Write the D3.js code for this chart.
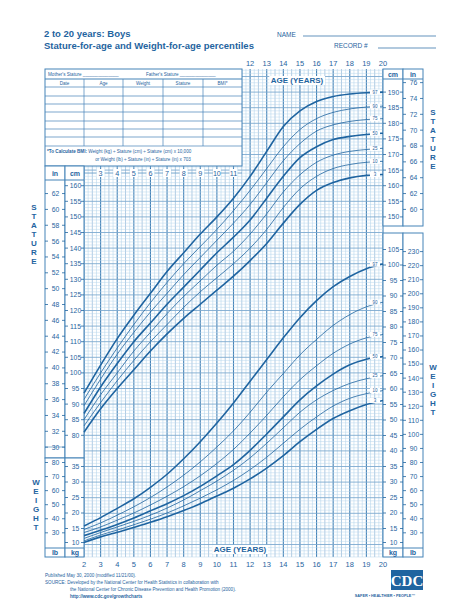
<!DOCTYPE html><html><head><meta charset="utf-8">
<script src="https://cdn.jsdelivr.net/npm/d3@7/dist/d3.min.js"></script>
<style>body{margin:0;background:#fff}svg{display:block;font-family:"Liberation Sans",Arial,sans-serif}</style>
</head><body><svg id="c" width="474" height="613"></svg><script>
const ages=[2,3,4,5,6,7,8,9,10,11,12,13,14,15,16,17,18,19,20];
const percentiles=["3","10","25","50","75","90","97"];
const statureP3=[81,88.5,95,101,107,112.5,117.5,122,126.5,131,136,141.5,148,154,158.5,161,162.5,163.3,163.6];
const statureP10=[83,90.5,97.5,104,110,115.5,121,126,130.5,135,140,146,153,159,163,165.5,166.8,167.5,167.8];
const statureP25=[85,93,100,107,113,119,124.5,129.5,134.5,139,144.5,151,158,163.5,167.5,169.8,171,171.6,172];
const statureP50=[87,95.5,103,110,116,122,127.5,133,138.5,143.5,149,156,163,169,172.5,174.8,175.8,176.4,176.8];
const statureP75=[89.5,98,106,113,119.5,125.5,131.5,137,142.5,148,154,161,168,173.5,177.5,179.5,180.6,181.2,181.5];
const statureP90=[91.5,100,108,115.5,122.5,129,135,140.5,146,152,158.5,165.5,172.5,178,181.5,183.5,184.6,185.2,185.5];
const statureP97=[93.5,102.5,111,118.5,125.5,132.5,138.5,144.5,150,156,163,171,179,184,187,188.6,189.4,189.8,190];
const weightP3=[10.5,12.3,13.8,15.3,17,18.8,20.8,23,25.5,28,31,34.5,38.5,43,47,50.5,53,55,56.3];
const weightP10=[11,12.9,14.5,16.2,18,20,22.3,24.8,27.5,30.5,34,38,42.5,47,51,54.5,57,58.5,59.5];
const weightP25=[11.8,13.7,15.5,17.3,19.3,21.6,24.2,27.2,30.3,33.8,37.8,42.5,47.5,52.5,56.5,59.5,61.8,63.3,64.3];
const weightP50=[12.7,14.4,16.3,18.4,20.7,23,25.6,28.6,32,35.6,40.2,45.5,51,56.5,61,64.8,67.8,69.6,70.5];
const weightP75=[13.7,15.5,17.7,20,22.6,25.4,28.5,32,36,40.5,45.8,51.5,57.5,63,67.5,71.5,74.5,76.5,77.6];
const weightP90=[14.7,16.8,19.3,22,25,28.4,32.2,36.5,41.3,46.5,52.5,59,65,71,76,80.5,84,86.5,88];
const weightP97=[15.8,18.5,21.5,24.6,28.3,32.5,37.5,43,49,55.5,62.5,69.5,76.5,83,88.5,93,96.3,98.8,100.3];
const statureSeries=[statureP3,statureP10,statureP25,statureP50,statureP75,statureP90,statureP97];
const weightSeries=[weightP3,weightP10,weightP25,weightP50,weightP75,weightP90,weightP97];
const tableCols=["Date","Age","Weight","Stature","BMI*"];

const C="#1f64a0", GL="#b9d6ec", GM="#7eaad0", GD="#4583b7";
const svg=d3.select("#c");
const x=d3.scaleLinear().domain([2,20]).range([84,383]);
const yS=d3.scaleLinear().domain([160,80]).range([185.7,435.3]);
const yW=d3.scaleLinear().domain([10,100]).range([544,265]);
const T=69,B=557;

const g=svg.append("g");
for(let a=2;a<=20.001;a+=0.25){
  const f=Math.abs(a-Math.round(a))<1e-6, h=Math.abs(a*2-Math.round(a*2))<1e-6;
  g.append("line").attr("x1",x(a)).attr("x2",x(a)).attr("y1",T).attr("y2",B)
   .attr("stroke",f?GD:(h?GM:GL)).attr("stroke-width",f?1.1:0.6);
}
const cmTop=yS.invert(T), cmBot=yS.invert(B);
for(let c=Math.ceil(cmBot);c<=cmTop;c++){
  g.append("line").attr("x1",84).attr("x2",383).attr("y1",yS(c)).attr("y2",yS(c))
   .attr("stroke",c%5===0?GM:GL).attr("stroke-width",c%5===0?0.9:0.5);
}
const tb=svg.append("g");
tb.append("rect").attr("x",45).attr("y",T).attr("width",197).attr("height",97).attr("fill","#fff").attr("stroke",GD).attr("stroke-width",1);
tb.append("text").attr("x",48).attr("y",76).text("Mother's Stature ______________").attr("fill",C).attr("font-size",4.6);
tb.append("text").attr("x",146).attr("y",76).text("Father's Stature ______________").attr("fill",C).attr("font-size",4.6);
tb.append("line").attr("x1",45).attr("x2",242).attr("y1",79).attr("y2",79).attr("stroke",GD);
const colX=[45,84,123,163,203,242];
const rowsY=[87,96,104,112,121,129,137,146];
rowsY.forEach(yy=>tb.append("line").attr("x1",45).attr("x2",242).attr("y1",yy).attr("y2",yy).attr("stroke",GD).attr("stroke-width",0.7));
colX.slice(1,5).forEach(xx=>tb.append("line").attr("x1",xx).attr("x2",xx).attr("y1",79).attr("y2",146).attr("stroke",GD).attr("stroke-width",0.7));
tableCols.forEach((t,i)=>tb.append("text").attr("x",(colX[i]+colX[i+1])/2).attr("y",85).attr("text-anchor","middle").attr("fill",C).attr("font-size",4.6).text(t));
tb.append("text").attr("x",47).attr("y",153).attr("fill",C).attr("font-size",4.6).attr("font-weight","bold")
 .html('*To Calculate BMI: <tspan font-weight="normal">Weight (kg) ÷ Stature (cm) ÷ Stature (cm) x 10,000</tspan>');
tb.append("text").attr("x",143).attr("y",161).attr("text-anchor","middle").attr("fill",C).attr("font-size",4.6)
 .text("or Weight (lb) ÷ Stature (in) ÷ Stature (in) x 703");

function col(x0,w,y0,y1){svg.append("rect").attr("x",x0).attr("y",y0).attr("width",w).attr("height",y1-y0).attr("fill","#fff").attr("stroke",GD).attr("stroke-width",1);}
col(45,20,166,458);col(65,19,166,458);
col(45,20,458,B);col(65,19,458,B);
col(383,20,T,226);col(403,20,T,226);
col(383,20,233,B);col(403,20,233,B);
[[45,166,180,"in",180],[65,166,180,"cm",180],[383,T,79,"cm",79],[403,T,79,"in",79],
 [45,548,B,"lb",548],[65,548,B,"kg",548],[383,548,B,"kg",548],[403,548,B,"lb",548]].forEach(d=>{
  svg.append("line").attr("x1",d[0]).attr("x2",d[0]+(d[0]===65?19:20)).attr("y1",d[4]).attr("y2",d[4]).attr("stroke",GD);
  svg.append("text").attr("x",d[0]+10).attr("y",(d[1]+d[2])/2+2.5).attr("text-anchor","middle").attr("fill",C).attr("font-size",7).attr("font-weight","bold").text(d[3]);
});
svg.append("line").attr("x1",45).attr("x2",65).attr("y1",447).attr("y2",447).attr("stroke",GD).attr("stroke-width",0.6);

function tick(xl,xr,y,label,anchorX){
  svg.append("line").attr("x1",xl).attr("x2",xl+3).attr("y1",y).attr("y2",y).attr("stroke",C).attr("stroke-width",0.8);
  svg.append("text").attr("x",anchorX).attr("y",y+2.4).attr("fill",C).attr("font-size",6.8).attr("text-anchor","middle").text(label);
  svg.append("line").attr("x1",xr-3).attr("x2",xr).attr("y1",y).attr("y2",y).attr("stroke",C).attr("stroke-width",0.8);
}
for(let c=80;c<=160;c+=5) tick(65,84,yS(c),c,75.5);
for(let i=30;i<=62;i+=2) tick(45,65,yS(i*2.54),i,55.5);
for(let c=150;c<=190;c+=5) tick(383,403,yS(c),c,393.5);
for(let i=60;i<=76;i+=2) tick(403,423,yS(i*2.54),i,413.5);
for(let k=10;k<=35;k+=5) tick(65,84,yW(k)-(k===10?1.5:0),k,75.5);
for(let l=30;l<=80;l+=10) tick(45,65,yW(l/2.2046),l,55.5);
for(let k=10;k<=105;k+=5) tick(383,403,yW(k)-(k===10?1.5:0),k,393.5);
for(let l=30;l<=230;l+=10) tick(403,423,yW(l/2.2046),l,413.5);

svg.append("line").attr("x1",84).attr("x2",242).attr("y1",173).attr("y2",173).attr("stroke",GD).attr("stroke-width",0.6);
[3,4,5,6,7,8,9,10,11].forEach(a=>{
  svg.append("rect").attr("x",x(a)-4).attr("y",169).attr("width",8).attr("height",8).attr("fill","#fff");
  svg.append("text").attr("x",x(a)).attr("y",176).attr("text-anchor","middle").attr("fill",C).attr("font-size",7.2).text(a);});
d3.range(12,21).forEach(a=>svg.append("text").attr("x",x(a)).attr("y",66).attr("text-anchor","middle").attr("fill",C).attr("font-size",7.5).text(a));
ages.forEach(a=>svg.append("text").attr("x",x(a)).attr("y",567).attr("text-anchor","middle").attr("fill",C).attr("font-size",7.5).text(a));

const lineS=d3.line().x((d,i)=>x(ages[i])).y(d=>yS(d)).curve(d3.curveMonotoneX);
const lineW=d3.line().x((d,i)=>x(ages[i])).y(d=>yW(d)).curve(d3.curveMonotoneX);
const thick=p=>p==="3"||p==="50"||p==="97";
statureSeries.forEach((s,i)=>svg.append("path").attr("d",lineS(s)).attr("fill","none").attr("stroke",C).attr("stroke-width",thick(percentiles[i])?1.6:0.8));
weightSeries.forEach((s,i)=>svg.append("path").attr("d",lineW(s)).attr("fill","none").attr("stroke",C).attr("stroke-width",thick(percentiles[i])?1.6:0.8));
function plabel(y,t){
  svg.append("rect").attr("x",370).attr("y",y-2.5).attr("width",10).attr("height",5).attr("fill","#fff");
  svg.append("text").attr("x",375).attr("y",y+1.6).attr("text-anchor","middle").attr("fill",C).attr("font-size",4.5).text(t);
}
statureSeries.forEach((s,i)=>plabel(yS(s[18]),percentiles[i]));
weightSeries.forEach((s,i)=>plabel(yW(s[18]),percentiles[i]));

function ageLabel(cx,cy){
  const t=svg.append("text").attr("x",cx).attr("y",cy).attr("text-anchor","middle").attr("fill",C).attr("font-size",8).attr("font-weight","bold").text("AGE (YEARS)");
  const b=t.node().getBBox();
  svg.append("rect").attr("x",b.x-1.5).attr("y",b.y).attr("width",b.width+3).attr("height",b.height).attr("fill","#fff");
  t.raise();
}
ageLabel(297,83);ageLabel(240,552);

function vert(xx,y0,word){word.split("").forEach((ch,i)=>svg.append("text").attr("x",xx).attr("y",y0+i*9).attr("text-anchor","middle").attr("fill",C).attr("font-size",8).attr("font-weight","bold").text(ch));}
vert(433,115,"STATURE");vert(34,210,"STATURE");vert(433,370,"WEIGHT");vert(36,485,"WEIGHT");

svg.append("text").attr("x",44).attr("y",37).attr("fill",C).attr("font-size",9.5).attr("font-weight","bold").text("2 to 20 years: Boys");
svg.append("text").attr("x",44).attr("y",49).attr("fill",C).attr("font-size",9.5).attr("font-weight","bold").text("Stature-for-age and Weight-for-age percentiles");
svg.append("text").attr("x",277).attr("y",37).attr("fill",C).attr("font-size",6.5).text("NAME");
svg.append("line").attr("x1",303).attr("x2",436).attr("y1",36).attr("y2",36).attr("stroke",C).attr("stroke-width",0.7);
svg.append("text").attr("x",334).attr("y",48).attr("fill",C).attr("font-size",6.5).text("RECORD #");
svg.append("line").attr("x1",378).attr("x2",436).attr("y1",48).attr("y2",48).attr("stroke",C).attr("stroke-width",0.7);

const fs=4.6;
svg.append("text").attr("x",45).attr("y",577).attr("fill",C).attr("font-size",fs).text("Published May 30, 2000 (modified 11/21/00).");
svg.append("text").attr("x",45).attr("y",584).attr("fill",C).attr("font-size",fs).text("SOURCE: Developed by the National Center for Health Statistics in collaboration with");
svg.append("text").attr("x",70).attr("y",591).attr("fill",C).attr("font-size",fs).text("the National Center for Chronic Disease Prevention and Health Promotion (2000).");
svg.append("text").attr("x",70).attr("y",598).attr("fill",C).attr("font-size",fs).attr("font-weight","bold").text("http://www.cdc.gov/growthcharts");
svg.append("rect").attr("x",391).attr("y",570).attr("width",32).attr("height",20).attr("fill",C);
svg.append("text").attr("x",407).attr("y",586).attr("text-anchor","middle").attr("fill","#fff").attr("font-size",15).attr("font-weight","bold").attr("font-family","Liberation Serif").text("CDC");
svg.append("text").attr("x",385).attr("y",597).attr("text-anchor","middle").attr("fill",C).attr("font-size",3.8).attr("font-weight","bold").text("SAFER • HEALTHIER • PEOPLE™");
</script></body></html>
